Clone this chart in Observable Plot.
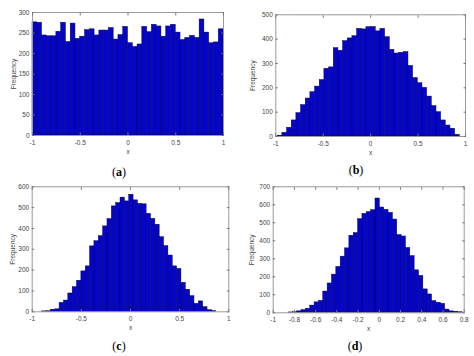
<!DOCTYPE html>
<html><head><meta charset="utf-8">
<script src="https://cdn.jsdelivr.net/npm/d3@7"></script>
<script src="https://cdn.jsdelivr.net/npm/@observablehq/plot@0.6"></script>
<style>
body{margin:0;background:#fff;}
#root{position:relative;width:474px;height:356px;overflow:hidden;background:#fff;}
.panel{position:absolute;width:237px;height:178px;}
.panel svg{position:absolute;left:0;top:0;}
.cap{position:absolute;font-family:"Liberation Serif","Times New Roman",serif;font-size:12px;color:#000;transform:translate(-50%,-50%);white-space:nowrap;line-height:1;}
</style></head>
<body><div id="root"></div>
<script>
// (a) uniform
const countsA = [276,275,244,242,242,253,275,228,273,236,241,257,259,244,256,256,262,234,245,265,225,216,222,265,252,270,266,241,266,270,251,233,238,243,238,283,251,225,227,259];
const binRangeA = [-1, 1];
// (b) triangular-like
const countsB = [3,15,36,66,96,129,156,182,205,232,278,284,363,352,392,403,412,442,440,449,450,432,442,408,356,341,344,347,290,240,219,200,164,125,100,66,45,32,7];
const binRangeB = [-0.98, 0.94];
// (c)
const countsC = [2,3,10,12,43,54,88,118,149,194,218,314,339,363,410,445,506,522,548,530,562,535,518,516,470,446,418,358,315,270,218,206,139,106,75,38,50,22,8,4];
const binRangeC = [-0.898, 0.872];
// (d)
const countsD = [2,3,8,15,22,40,58,66,118,163,212,255,312,358,428,443,520,550,560,570,635,585,572,555,518,432,424,360,315,236,205,130,102,65,56,50,18,8,6,3];
const binRangeD = [-0.856, 0.784];

const xTicksABC = [-1,-0.5,0,0.5,1];
const xTicksD = [-1,-0.8,-0.6,-0.4,-0.2,0,0.2,0.4,0.6,0.8];
const yTicksA = [0,50,100,150,200,250,300];
const yTicksB = [0,100,200,300,400,500];
const yTicksC = [0,100,200,300,400,500,600];
const yTicksD = [0,100,200,300,400,500,600,700];
const captions = ["a","b","c","d"];

const fmt = d => String(d);

function panel(o) {
  const [lo, hi] = o.range;
  const w = (hi - lo) / o.counts.length;
  const bins = o.counts.map((c, i) => ({x1: lo + i * w, x2: lo + (i + 1) * w, count: c}));
  const chart = Plot.plot({
    width: 237, height: 160,
    marginLeft: o.ml, marginRight: o.mr, marginTop: o.mt, marginBottom: o.mb,
    style: {fontFamily: "'Liberation Sans', Arial, sans-serif", fontSize: "6.5px", color: "#444", background: "transparent", overflow: "visible"},
    x: {domain: o.xDomain},
    y: {domain: o.yDomain},
    marks: [
      Plot.rectY(bins, {x1: "x1", x2: "x2", y: "count", fill: "#0404cc", stroke: "#00003a", strokeWidth: 0.45}),
      Plot.frame({stroke: "#9a9a9a"}),
      Plot.axisX({ticks: o.xTicks, tickFormat: fmt, tickSize: -2.5, tickPadding: 7, stroke: "#777",
        label: "x", labelAnchor: "center", labelArrow: "none", labelOffset: 18.5}),
      Plot.axisX({anchor: "top", ticks: o.xTicks, tickSize: -2.5, tickFormat: () => "", label: null, stroke: "#777"}),
      Plot.axisY({ticks: o.yTicks, tickFormat: fmt, tickSize: -2.5, tickPadding: 5.5, stroke: "#777",
        label: "Frequency", labelAnchor: "center", labelArrow: "none", labelOffset: o.ylo}),
      Plot.axisY({anchor: "right", ticks: o.yTicks, tickSize: -2.5, tickFormat: () => "", label: null, stroke: "#777"})
    ]
  });
  const div = document.createElement("div");
  div.className = "panel";
  div.style.left = o.left + "px";
  div.style.top = o.top + "px";
  div.appendChild(chart);
  const cap = document.createElement("div");
  cap.className = "cap";
  cap.style.left = o.capX + "px";
  cap.style.top = o.capY + "px";
  cap.innerHTML = "(<b>" + o.caption + "</b>)";
  div.appendChild(cap);
  document.getElementById("root").appendChild(div);
}

panel({counts: countsA, range: binRangeA, xDomain: [-1, 1], xTicks: xTicksABC, yDomain: [0, 300], yTicks: yTicksA,
  left: 0, top: 0, ml: 32, mr: 14, mt: 12, mb: 25, ylo: 21.5, caption: captions[0], capX: 119, capY: 172});
panel({counts: countsB, range: binRangeB, xDomain: [-1, 1], xTicks: xTicksABC, yDomain: [0, 500], yTicks: yTicksB,
  left: 237, top: 0, ml: 38.3, mr: 9, mt: 14.3, mb: 24, ylo: 25.5, caption: captions[1], capX: 119, capY: 170});
panel({counts: countsC, range: binRangeC, xDomain: [-1, 1], xTicks: xTicksABC, yDomain: [0, 600], yTicks: yTicksC,
  left: 0, top: 178, ml: 31.7, mr: 8.7, mt: 8.3, mb: 26.7, ylo: 21.5, caption: captions[2], capX: 119, capY: 168});
panel({counts: countsD, range: binRangeD, xDomain: [-1, 0.8], xTicks: xTicksD, yDomain: [0, 700], yTicks: yTicksD,
  left: 237, top: 178, ml: 35.7, mr: 10.3, mt: 8.3, mb: 25.7, ylo: 23.5, caption: captions[3], capX: 118, capY: 168});
</script>
</body></html>
